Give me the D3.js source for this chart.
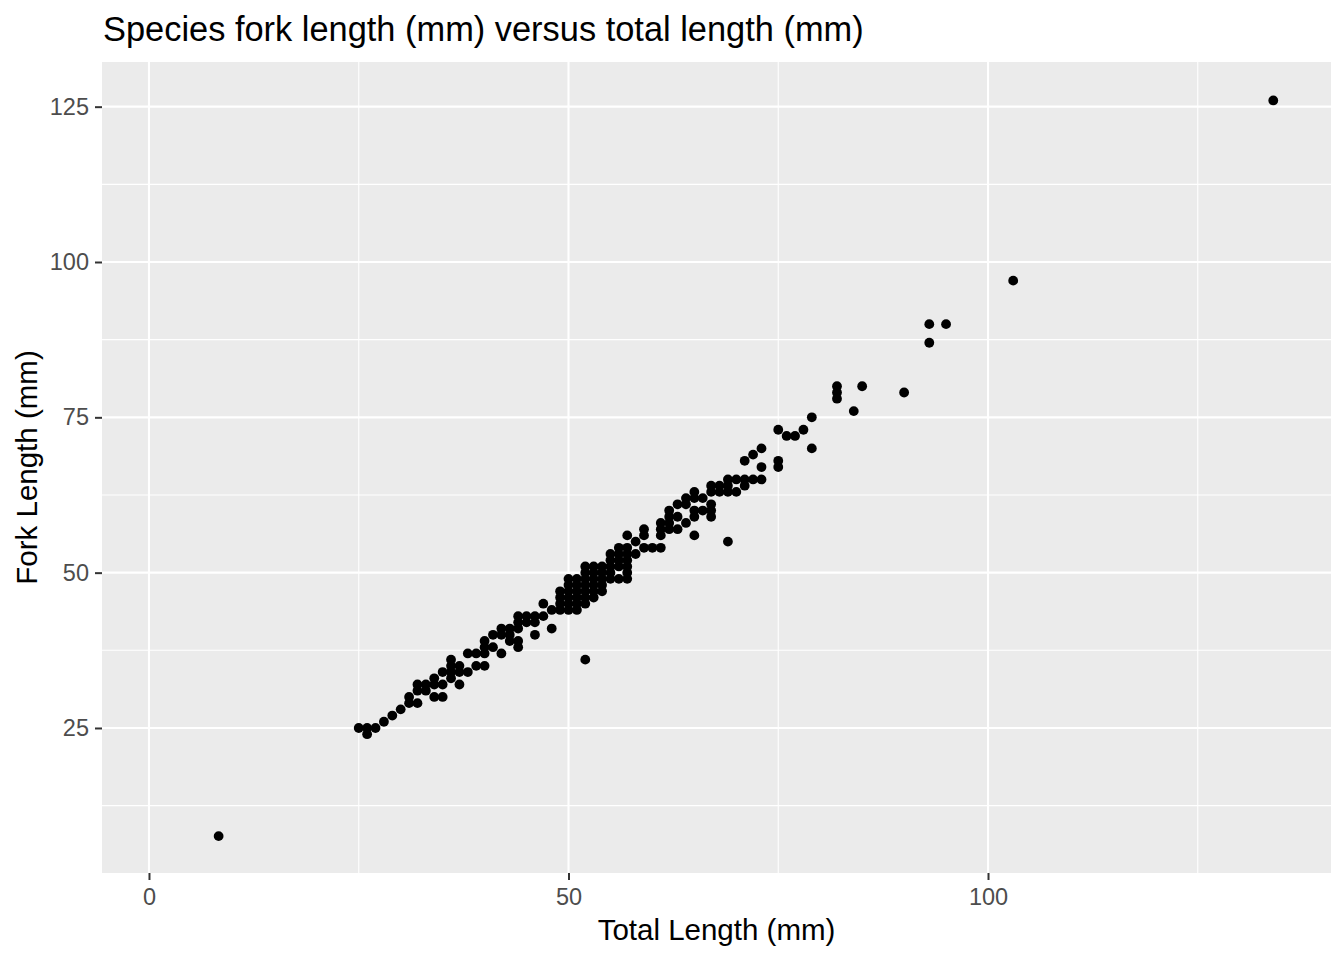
<!DOCTYPE html>
<html>
<head>
<meta charset="utf-8">
<script src="https://cdn.jsdelivr.net/npm/d3@7"></script>
<style>
  html, body { margin: 0; padding: 0; background: #ffffff; }
  svg { display: block; font-family: "Liberation Sans", Arial, sans-serif; }
</style>
</head>
<body>
<svg id="chart" width="1344" height="960"></svg>
<script>
// Data: total length (mm) and fork length (mm)
const totalLength = [
  8.3, 134, 103, 93, 95, 93, 90, 85, 84, 82, 82, 82, 79, 79, 78, 76, 77, 75, 75, 75,
  73, 73, 73, 72, 72, 71, 71, 71, 70, 70, 69, 69, 69, 68, 68, 67, 67, 66,
  69, 67, 67, 67, 66, 65, 65, 65, 65, 65, 64, 64, 64, 63, 63, 63, 62, 62, 62, 62,
  61, 61, 61, 61, 60, 59, 59, 59, 58, 58, 57,
  57, 57, 57, 57, 57, 57,
  56, 56, 56, 56, 56,
  55, 55, 55, 55, 55,
  54, 54, 54, 54, 54,
  53, 53, 53, 53, 53, 53,
  52, 52, 52, 52, 52, 52, 52, 52,
  51, 51, 51, 51, 51, 51,
  50, 50, 50, 50, 50, 50,
  49, 49, 49, 49,
  48, 48, 47, 47, 46, 46, 46, 45, 45, 44, 44, 44, 44, 44, 43, 43, 43, 42, 42, 42,
  41, 41, 40, 40, 40, 40, 39, 39, 38, 38, 37, 37, 37, 36, 36, 36, 36, 35, 35, 35,
  34, 34, 34, 33, 33, 32, 32, 32, 31, 31, 30, 29, 28, 27, 26, 25, 26
];
const forkLength = [
  7.6, 126, 97, 90, 90, 87, 79, 80, 76, 80, 79, 78, 75, 70, 73, 72, 72, 73, 68, 67,
  70, 67, 65, 69, 65, 68, 65, 64, 65, 63, 65, 64, 63, 64, 63, 64, 63, 62,
  55, 61, 60, 59, 60, 63, 62, 60, 59, 56, 62, 61, 58, 61, 59, 57, 60, 59, 58, 57,
  58, 57, 56, 54, 54, 57, 56, 54, 55, 53, 56,
  54, 53, 52, 51, 50, 49,
  54, 53, 52, 51, 49,
  53, 52, 51, 50, 49,
  51, 50, 49, 48, 47,
  51, 50, 49, 48, 47, 46,
  51, 50, 49, 48, 47, 46, 45, 36,
  49, 48, 47, 46, 45, 44,
  49, 48, 47, 46, 45, 44,
  47, 46, 45, 44,
  44, 41, 45, 43, 43, 42, 40, 43, 42, 43, 42, 41, 39, 38, 41, 40, 39, 41, 40, 37,
  40, 38, 39, 38, 37, 35, 37, 35, 37, 34, 35, 34, 32, 36, 35, 34, 33, 34, 32, 30,
  33, 32, 30, 32, 31, 32, 31, 29, 30, 29, 28, 27, 26, 25, 25, 25, 24
];
const xMajorTicks = [0, 50, 100];
const xMinorTicks = [25, 75, 125];
const yMajorTicks = [25, 50, 75, 100, 125];
const yMinorTicks = [12.5, 37.5, 62.5, 87.5, 112.5];

const titleText = "Species fork length (mm) versus total length (mm)";
const xTitle = "Total Length (mm)";
const yTitle = "Fork Length (mm)";

const points = totalLength.map((t, i) => ({ x: t, y: forkLength[i] }));

const panel = { left: 102, right: 1331, top: 62, bottom: 873 };

const x = d3.scaleLinear().domain([-5.60, 140.88]).range([panel.left, panel.right]);
const y = d3.scaleLinear().domain([1.66, 132.19]).range([panel.bottom, panel.top]);

const svg = d3.select("#chart");

svg.append("rect")
  .attr("x", panel.left).attr("y", panel.top)
  .attr("width", panel.right - panel.left).attr("height", panel.bottom - panel.top)
  .attr("fill", "#EBEBEB");

const grid = svg.append("g");
grid.selectAll(".xminor").data(xMinorTicks).join("line")
  .attr("x1", d => x(d)).attr("x2", d => x(d))
  .attr("y1", panel.top).attr("y2", panel.bottom)
  .attr("stroke", "#ffffff").attr("stroke-width", 1.1);
grid.selectAll(".yminor").data(yMinorTicks).join("line")
  .attr("y1", d => y(d)).attr("y2", d => y(d))
  .attr("x1", panel.left).attr("x2", panel.right)
  .attr("stroke", "#ffffff").attr("stroke-width", 1.1);
grid.selectAll(".xmajor").data(xMajorTicks).join("line")
  .attr("x1", d => x(d)).attr("x2", d => x(d))
  .attr("y1", panel.top).attr("y2", panel.bottom)
  .attr("stroke", "#ffffff").attr("stroke-width", 2.1);
grid.selectAll(".ymajor").data(yMajorTicks).join("line")
  .attr("y1", d => y(d)).attr("y2", d => y(d))
  .attr("x1", panel.left).attr("x2", panel.right)
  .attr("stroke", "#ffffff").attr("stroke-width", 2.1);

// Axes
const xAxis = d3.axisBottom(x).tickValues(xMajorTicks).tickSize(7).tickPadding(8).tickFormat(d3.format("d"));
const gx = svg.append("g").attr("transform", `translate(0,${panel.bottom})`).call(xAxis);
gx.select(".domain").remove();
gx.selectAll("line").attr("stroke", "#333333").attr("stroke-width", 2);
gx.selectAll("text").attr("fill", "#4D4D4D").style("font-size", "23.5px")
  .style("font-family", "'Liberation Sans', Arial, sans-serif");

const yAxis = d3.axisLeft(y).tickValues(yMajorTicks).tickSize(7).tickPadding(6).tickFormat(d3.format("d"));
const gy = svg.append("g").attr("transform", `translate(${panel.left},0)`).call(yAxis);
gy.select(".domain").remove();
gy.selectAll("line").attr("stroke", "#333333").attr("stroke-width", 2);
gy.selectAll("text").attr("fill", "#4D4D4D").style("font-size", "23.5px")
  .style("font-family", "'Liberation Sans', Arial, sans-serif");

// Points
svg.append("g").selectAll("circle").data(points).join("circle")
  .attr("cx", d => x(d.x)).attr("cy", d => y(d.y))
  .attr("r", 4.9).attr("fill", "#000000");

// Titles
svg.append("text").attr("x", 103).attr("y", 41)
  .attr("fill", "#000000").style("font-size", "34.4px").text(titleText);

svg.append("text").attr("x", (panel.left + panel.right) / 2).attr("y", 940)
  .attr("text-anchor", "middle").attr("fill", "#000000").style("font-size", "29.5px").text(xTitle);

svg.append("text")
  .attr("transform", `translate(37,${(panel.top + panel.bottom) / 2}) rotate(-90)`)
  .attr("text-anchor", "middle").attr("fill", "#000000").style("font-size", "29.5px").text(yTitle);
</script>
</body>
</html>
